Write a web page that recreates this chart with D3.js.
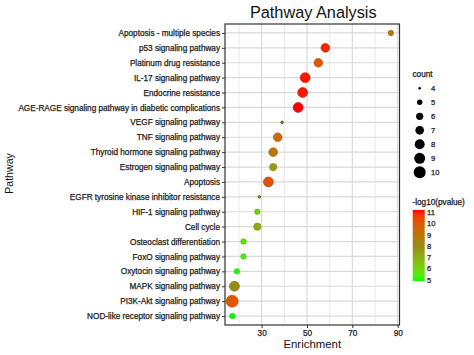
<!DOCTYPE html>
<html><head><meta charset="utf-8">
<script src="https://cdn.jsdelivr.net/npm/d3@7"></script>
<style>body{margin:0;background:#fff}svg{display:block;font-family:"Liberation Sans",Arial,sans-serif}</style>
</head><body><svg id="c" width="474" height="355"></svg>
<script>
const pathways = ["Apoptosis - multiple species","p53 signaling pathway","Platinum drug resistance","IL-17 signaling pathway","Endocrine resistance","AGE-RAGE signaling pathway in diabetic complications","VEGF signaling pathway","TNF signaling pathway","Thyroid hormone signaling pathway","Estrogen signaling pathway","Apoptosis","EGFR tyrosine kinase inhibitor resistance","HIF-1 signaling pathway","Cell cycle","Osteoclast differentiation","FoxO signaling pathway","Oxytocin signaling pathway","MAPK signaling pathway","PI3K-Akt signaling pathway","NOD-like receptor signaling pathway"];
const enrichment = [87.0,58.1,55.0,49.2,48.1,46.1,39.0,37.1,35.1,35.1,33.0,29.0,28.1,28.1,22.0,22.0,19.1,18.0,17.0,17.1];
const counts = [5,7,7,8,8,8,4,7,7,6,8,4,5,6,5,5,5,8,10,5];
const neglogp = [8.8,11.0,10.0,11.1,11.1,11.2,6.8,9.4,8.9,7.4,10.2,6.6,6.1,7.1,5.4,5.3,5.0,7.9,10.1,4.9];
const xTicks = [30,50,70,90];
const xMinor = [20,40,60,80];
const countLevels = [4,5,6,7,8,9,10];
const colorTicks = [5,6,7,8,9,10,11];

const svg = d3.select("#c");
const P = {l:225, r:399.5, t:24, b:325};
const x = d3.scaleLinear().domain([13.85, 90.8]).range([P.l, P.r]);
const y = d3.scalePoint().domain(pathways).range([P.t, P.b]).padding(0.6);
const cDom = [4.9, 11.2];
const color = d3.scaleLinear().domain([4.9, 8.0, 11.2]).range(["#00ff00","#9a8814","#ff0000"]).interpolate(d3.interpolateLab);
const rad = c => Math.sqrt(6.25 + 22.96*(c-4))/2;
const bold = sel => sel.attr("stroke","#222").attr("stroke-width",0.25);

// panel
svg.append("rect").attr("x",P.l).attr("y",P.t).attr("width",P.r-P.l).attr("height",P.b-P.t).attr("fill","#fff");
const g = svg.append("g");
g.selectAll(".mn").data(xMinor).join("line").attr("x1",d=>x(d)).attr("x2",d=>x(d)).attr("y1",P.t).attr("y2",P.b).attr("stroke","#e4e4e4").attr("stroke-width",0.9);
g.selectAll(".mj").data(xTicks.filter(d=>x(d)<P.r-1)).join("line").attr("x1",d=>x(d)).attr("x2",d=>x(d)).attr("y1",P.t).attr("y2",P.b).attr("stroke","#dadada").attr("stroke-width",1.2);
g.selectAll(".hy").data(pathways).join("line").attr("x1",P.l).attr("x2",P.r).attr("y1",d=>y(d)).attr("y2",d=>y(d)).attr("stroke","#dadada").attr("stroke-width",1.2);

// points
const idx = d3.range(pathways.length);
g.selectAll("circle.pt").data(idx).join("circle")
  .attr("cx",i=>x(enrichment[i])).attr("cy",i=>y(pathways[i])).attr("r",i=>rad(counts[i]))
  .attr("fill",i=>color(neglogp[i]))
  .attr("stroke",i=>d3.color(color(neglogp[i])).darker(counts[i]<=4?2.5:0.7))
  .attr("stroke-width",i=>counts[i]<=4?0.9:0.6);

svg.append("rect").attr("x",P.l).attr("y",P.t).attr("width",P.r-P.l).attr("height",P.b-P.t).attr("fill","none").attr("stroke","#333").attr("stroke-width",1.2);

// axes
const xa = svg.append("g").attr("transform",`translate(0,${P.b})`)
  .call(d3.axisBottom(x).tickValues(xTicks).tickSize(3).tickPadding(2).tickFormat(d3.format("d")));
xa.select(".domain").remove();
xa.selectAll("line").attr("stroke","#333");
xa.selectAll("text").attr("font-size","8.2px").attr("fill","#222").attr("font-family","Liberation Sans, Arial, sans-serif").call(bold);
const ya = svg.append("g").attr("transform",`translate(${P.l},0)`)
  .call(d3.axisLeft(y).tickSize(3).tickPadding(2));
ya.select(".domain").remove();
ya.selectAll("line").attr("stroke","#333");
ya.selectAll("text").attr("font-size","8.2px").attr("fill","#222").attr("font-family","Liberation Sans, Arial, sans-serif").call(bold);

// titles
svg.append("text").attr("x",(P.l+P.r)/2+1).attr("y",18).attr("text-anchor","middle").attr("font-size","16.3px").attr("fill","#111").text("Pathway Analysis");
svg.append("text").attr("x",(P.l+P.r)/2).attr("y",348).attr("text-anchor","middle").attr("font-size","11.4px").attr("fill","#111").text("Enrichment");
svg.append("text").attr("transform",`translate(13,${(P.t+P.b)/2-1}) rotate(-90)`).attr("text-anchor","middle").attr("font-size","10.6px").attr("fill","#111").text("Pathway");

// size legend
const lg = svg.append("g");
lg.append("text").attr("x",412.5).attr("y",77).attr("font-size","8.2px").attr("fill","#111").text("count").call(bold);
lg.selectAll("circle").data(countLevels).join("circle").attr("cx",419.7).attr("cy",(d,i)=>88.3+i*14).attr("r",d=>rad(d)).attr("fill","#000");
lg.selectAll("text.l").data(countLevels).join("text").attr("class","l").attr("x",431).attr("y",(d,i)=>88.3+i*14+2.8).attr("font-size","7.6px").attr("fill","#111").text(d=>d).call(bold);

// color legend
const defs = svg.append("defs");
const grad = defs.append("linearGradient").attr("id","gr").attr("x1",0).attr("x2",0).attr("y1",1).attr("y2",0);
d3.range(0,1.0001,0.05).forEach(t=>grad.append("stop").attr("offset",t).attr("stop-color",color(cDom[0]+t*(cDom[1]-cDom[0]))));
const cy = d3.scaleLinear().domain(cDom).range([281,210]);
svg.append("text").attr("x",412.5).attr("y",205).attr("font-size","8.2px").attr("fill","#111").text("-log10(pvalue)").call(bold);
svg.append("rect").attr("x",412.7).attr("y",210).attr("width",12).attr("height",71).attr("fill","url(#gr)");
svg.selectAll("text.ct").data(colorTicks).join("text").attr("class","ct").attr("x",427).attr("y",d=>cy(d)+2.8).attr("font-size","7.6px").attr("fill","#111").text(d=>d).call(bold);
</script></body></html>
